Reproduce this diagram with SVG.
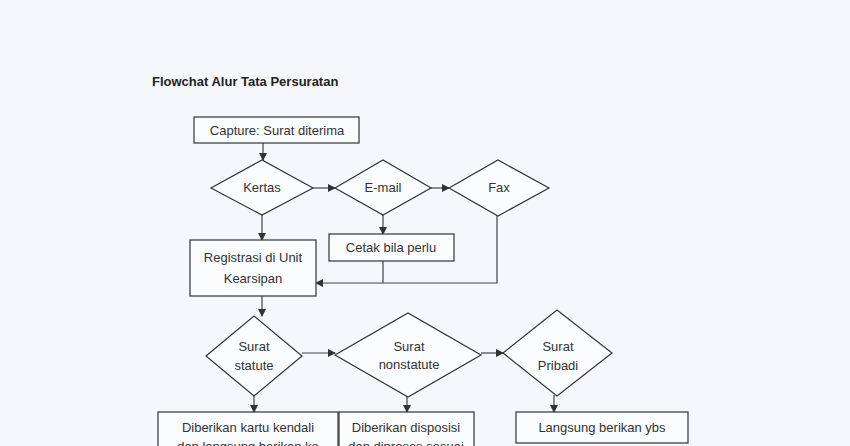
<svg xmlns="http://www.w3.org/2000/svg" width="850" height="446" viewBox="0 0 850 446">
<defs>
<marker id="ah" markerWidth="8" markerHeight="8" refX="7" refY="4" orient="auto" markerUnits="userSpaceOnUse"><path d="M0,0 L8,4 L0,8 Z" fill="#333"/></marker>
<style>
.s{fill:#fbfcfd;stroke:#333;stroke-width:1.2}
.t{font-family:"Liberation Sans",Arial,sans-serif;font-size:13px;fill:#333;text-anchor:middle}
.c{fill:none;stroke:#444;stroke-width:1.2}
</style>
</defs>
<rect width="850" height="446" fill="#f5f7fa"/>
<text x="152" y="86" style="font-family:'Liberation Sans',Arial,sans-serif;font-size:13px;font-weight:bold;fill:#222">Flowchat Alur Tata Persuratan</text>
<g id="connectors">
<line class="c" x1="263" y1="143" x2="263" y2="160" marker-end="url(#ah)"/>
<line class="c" x1="313" y1="188" x2="335" y2="188" marker-end="url(#ah)"/>
<line class="c" x1="431" y1="188" x2="449" y2="188" marker-end="url(#ah)"/>
<line class="c" x1="262" y1="215" x2="262" y2="240" marker-end="url(#ah)"/>
<line class="c" x1="383" y1="215" x2="383" y2="234" marker-end="url(#ah)"/>
<line class="c" x1="383" y1="261" x2="383" y2="283"/>
<polyline class="c" points="497,216 497,283 316,283" marker-end="url(#ah)"/>
<line class="c" x1="262" y1="296" x2="262" y2="316" marker-end="url(#ah)"/>
<line class="c" x1="302" y1="353" x2="335" y2="353" marker-end="url(#ah)"/>
<line class="c" x1="481" y1="353" x2="503" y2="353" marker-end="url(#ah)"/>
<line class="c" x1="254" y1="396" x2="254" y2="412" marker-end="url(#ah)"/>
<line class="c" x1="407" y1="396" x2="407" y2="412" marker-end="url(#ah)"/>
<line class="c" x1="554" y1="395" x2="554" y2="412" marker-end="url(#ah)"/>
</g>
<g id="capture"><rect class="s" x="194" y="117" width="165" height="26"/><text class="t" x="277" y="135">Capture:  Surat diterima</text></g>
<g id="kertas"><polygon class="s" points="211,188 262,160 313,188 262,215"/><text class="t" x="262" y="192">Kertas</text></g>
<g id="email"><polygon class="s" points="335,188 383,160 431,188 383,215"/><text class="t" x="383" y="192">E-mail</text></g>
<g id="fax"><polygon class="s" points="449,188 498,160 549,188 498,216"/><text class="t" x="499" y="192">Fax</text></g>
<g id="registrasi"><rect class="s" x="190" y="240" width="126" height="56"/><text class="t" x="253" y="262">Registrasi di Unit</text><text class="t" x="253" y="283">Kearsipan</text></g>
<g id="cetak"><rect class="s" x="329" y="234" width="125" height="27"/><text class="t" x="391" y="252">Cetak bila perlu</text></g>
<g id="statute"><polygon class="s" points="206,356 254,316 302,356 254,396"/><text class="t" x="254" y="351">Surat</text><text class="t" x="254" y="370">statute</text></g>
<g id="nonstatute"><polygon class="s" points="335,355 408,313 481,355 408,397"/><text class="t" x="409" y="351">Surat</text><text class="t" x="409" y="369">nonstatute</text></g>
<g id="pribadi"><polygon class="s" points="503,353 557,310 612,353 557,396"/><text class="t" x="558" y="351">Surat</text><text class="t" x="558" y="370">Pribadi</text></g>
<g id="kartu"><rect class="s" x="158" y="412" width="180" height="50"/><text class="t" x="248" y="432">Diberikan kartu kendali</text><text class="t" x="248" y="451">dan langsung berikan ke</text></g>
<g id="disposisi"><rect class="s" x="339" y="412" width="135" height="50"/><text class="t" x="406" y="432">Diberikan disposisi</text><text class="t" x="406" y="451">dan diproses sesuai</text></g>
<g id="ybs"><rect class="s" x="516" y="412" width="172" height="31"/><text class="t" x="602" y="432">Langsung berikan ybs</text></g>
</svg>
